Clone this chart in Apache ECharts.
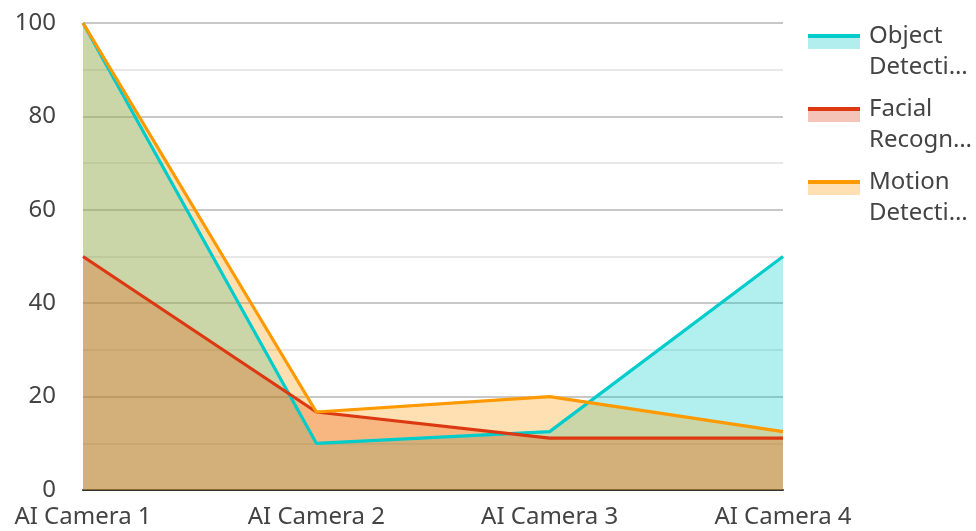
<!DOCTYPE html>
<html>
<head>
<meta charset="utf-8">
<script src="https://cdn.jsdelivr.net/npm/echarts@6/dist/echarts.min.js"></script>
<style>
    html, body { margin: 0; padding: 0; background: #fff; }
    #main { width: 976px; height: 531px; }
</style>
</head>
<body>
<div id="main"></div>
<script>
    // 数据
    var cameras = ['AI Camera 1', 'AI Camera 2', 'AI Camera 3', 'AI Camera 4'];
    var seriesNames = ['Object Detection', 'Facial Recognition', 'Motion Detection'];
    var objectDetection = [100, 10, 12.5, 50];
    var facialRecognition = [50, 16.7, 11.1, 11.1];
    var motionDetection = [100, 16.7, 20, 12.5];
    var lineColors = ['#00cccc', '#dc3912', '#ff9900'];
    var fillColors = ['#b2eeee', '#f4c4b8', '#ffe0b2'];

    var myChart = echarts.init(document.getElementById('main'));

    function makeSeries(idx, data) {
        return {
            name: seriesNames[idx],
            type: 'line',
            data: data,
            showSymbol: false,
            lineStyle: { color: lineColors[idx], width: 3.2 },
            itemStyle: { color: lineColors[idx] },
            areaStyle: { color: lineColors[idx], opacity: 0.3 },
            emphasis: { disabled: true }
        };
    }

    // 图例文字，两行
    function legendText(name) {
        var parts = name.split(' ');
        return parts[0] + '\n' + parts[1];
    }

    function legendTextStyle(color) {
        return {
            fontFamily: 'Noto Sans', fontSize: 24, color: color,
            lineHeight: 31, width: 107, overflow: 'truncate', ellipsis: '…'
        };
    }

    var legendBase = {
        orient: 'vertical',
        left: 803,
        top: 16,
        itemWidth: 56,
        itemHeight: 36,
        itemGap: 11,
        formatter: legendText,
        selectedMode: false
    };

    var option = {
        animation: false,
        textStyle: { fontFamily: 'Noto Sans' },
        grid: { left: 83, right: 193, top: 23, bottom: 41 },
        legend: [
            Object.assign({}, legendBase, {
                icon: 'path://M0,0L52,0L52,15L0,15ZM56,36L56,36',
                data: seriesNames.map(function (n, i) {
                    return { name: n, itemStyle: { color: fillColors[i] } };
                }),
                textStyle: legendTextStyle('#444')
            }),
            Object.assign({}, legendBase, {
                z: 10,
                icon: 'path://M0,0L52,0L52,4L0,4ZM56,36L56,36',
                data: seriesNames.map(function (n, i) {
                    return { name: n, itemStyle: { color: lineColors[i] } };
                }),
                textStyle: legendTextStyle('rgba(0,0,0,0)')
            })
        ],
        xAxis: {
            type: 'category',
            data: cameras,
            boundaryGap: false,
            axisLine: { lineStyle: { color: '#333', width: 2 } },
            axisTick: { show: false },
            axisLabel: { fontSize: 24, color: '#444', margin: 15 }
        },
        yAxis: {
            type: 'value',
            min: 0,
            max: 100,
            interval: 20,
            axisLine: { show: false },
            axisTick: { show: false },
            axisLabel: { fontSize: 24, color: '#444', margin: 27 },
            splitLine: { lineStyle: { color: '#c8c8c8', width: 2 } },
            minorSplitLine: { show: true, lineStyle: { color: '#e8e8e8', width: 2 } },
            minorTick: { show: false, splitNumber: 2 }
        },
        series: [
            makeSeries(0, objectDetection),
            makeSeries(1, facialRecognition),
            makeSeries(2, motionDetection)
        ]
    };

    myChart.setOption(option);
</script>
</body>
</html>
